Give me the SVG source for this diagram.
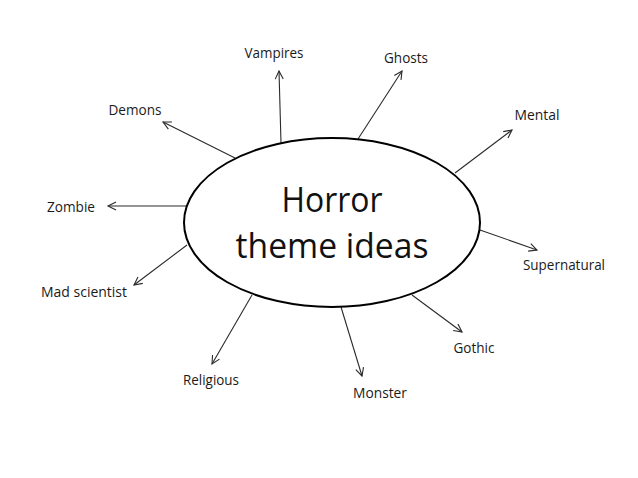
<svg xmlns="http://www.w3.org/2000/svg" width="638" height="478" viewBox="0 0 638 478">
<style>
.lbl{font-family:"Open Sans","Liberation Sans",sans-serif;font-size:14px;fill:#1a1a1a;text-anchor:middle}
.big{font-family:"Open Sans","Liberation Sans",sans-serif;font-size:35px;fill:#111;text-anchor:middle}
.con{stroke:#2a2a2a;stroke-width:1.1;fill:none;marker-end:url(#arr)}
</style>
<defs>
<marker id="arr" markerUnits="userSpaceOnUse" markerWidth="12" markerHeight="12" refX="9" refY="5" orient="auto">
<path d="M1,1 L9,5 L1,9" fill="none" stroke="#2a2a2a" stroke-width="1.1"/>
</marker>
</defs>
<rect width="638" height="478" fill="#fff"/>
<g id="connectors">
<line class="con" x1="281" y1="143" x2="279" y2="71"/>
<line class="con" x1="358" y1="139" x2="402" y2="71"/>
<line class="con" x1="235" y1="158" x2="163" y2="122"/>
<line class="con" x1="187" y1="206" x2="108" y2="206"/>
<line class="con" x1="187" y1="245" x2="134" y2="285"/>
<line class="con" x1="455" y1="173" x2="512" y2="130"/>
<line class="con" x1="480" y1="230" x2="537" y2="250"/>
<line class="con" x1="252" y1="295" x2="212" y2="364"/>
<line class="con" x1="341" y1="307" x2="362" y2="376"/>
<line class="con" x1="412" y1="295" x2="462" y2="332"/>
</g>
<g id="center">
<ellipse cx="332" cy="222.5" rx="148" ry="84.5" fill="#fff" stroke="#000" stroke-width="2"/>
<text class="big" x="332" y="212" textLength="101" lengthAdjust="spacingAndGlyphs">Horror</text>
<text class="big" x="332" y="258" textLength="193" lengthAdjust="spacingAndGlyphs">theme ideas</text>
</g>
<g id="vampires"><text class="lbl" x="274" y="58" textLength="59" lengthAdjust="spacingAndGlyphs">Vampires</text></g>
<g id="ghosts"><text class="lbl" x="406" y="63" textLength="44" lengthAdjust="spacingAndGlyphs">Ghosts</text></g>
<g id="demons"><text class="lbl" x="135" y="115" textLength="53" lengthAdjust="spacingAndGlyphs">Demons</text></g>
<g id="zombie"><text class="lbl" x="71" y="212" textLength="48" lengthAdjust="spacingAndGlyphs">Zombie</text></g>
<g id="mad-scientist"><text class="lbl" x="84" y="297" textLength="86" lengthAdjust="spacingAndGlyphs">Mad scientist</text></g>
<g id="mental"><text class="lbl" x="537" y="120" textLength="45" lengthAdjust="spacingAndGlyphs">Mental</text></g>
<g id="supernatural"><text class="lbl" x="564" y="270" textLength="82" lengthAdjust="spacingAndGlyphs">Supernatural</text></g>
<g id="religious"><text class="lbl" x="211" y="385" textLength="56" lengthAdjust="spacingAndGlyphs">Religious</text></g>
<g id="monster"><text class="lbl" x="380" y="398" textLength="54" lengthAdjust="spacingAndGlyphs">Monster</text></g>
<g id="gothic"><text class="lbl" x="474" y="353" textLength="41" lengthAdjust="spacingAndGlyphs">Gothic</text></g>
</svg>
